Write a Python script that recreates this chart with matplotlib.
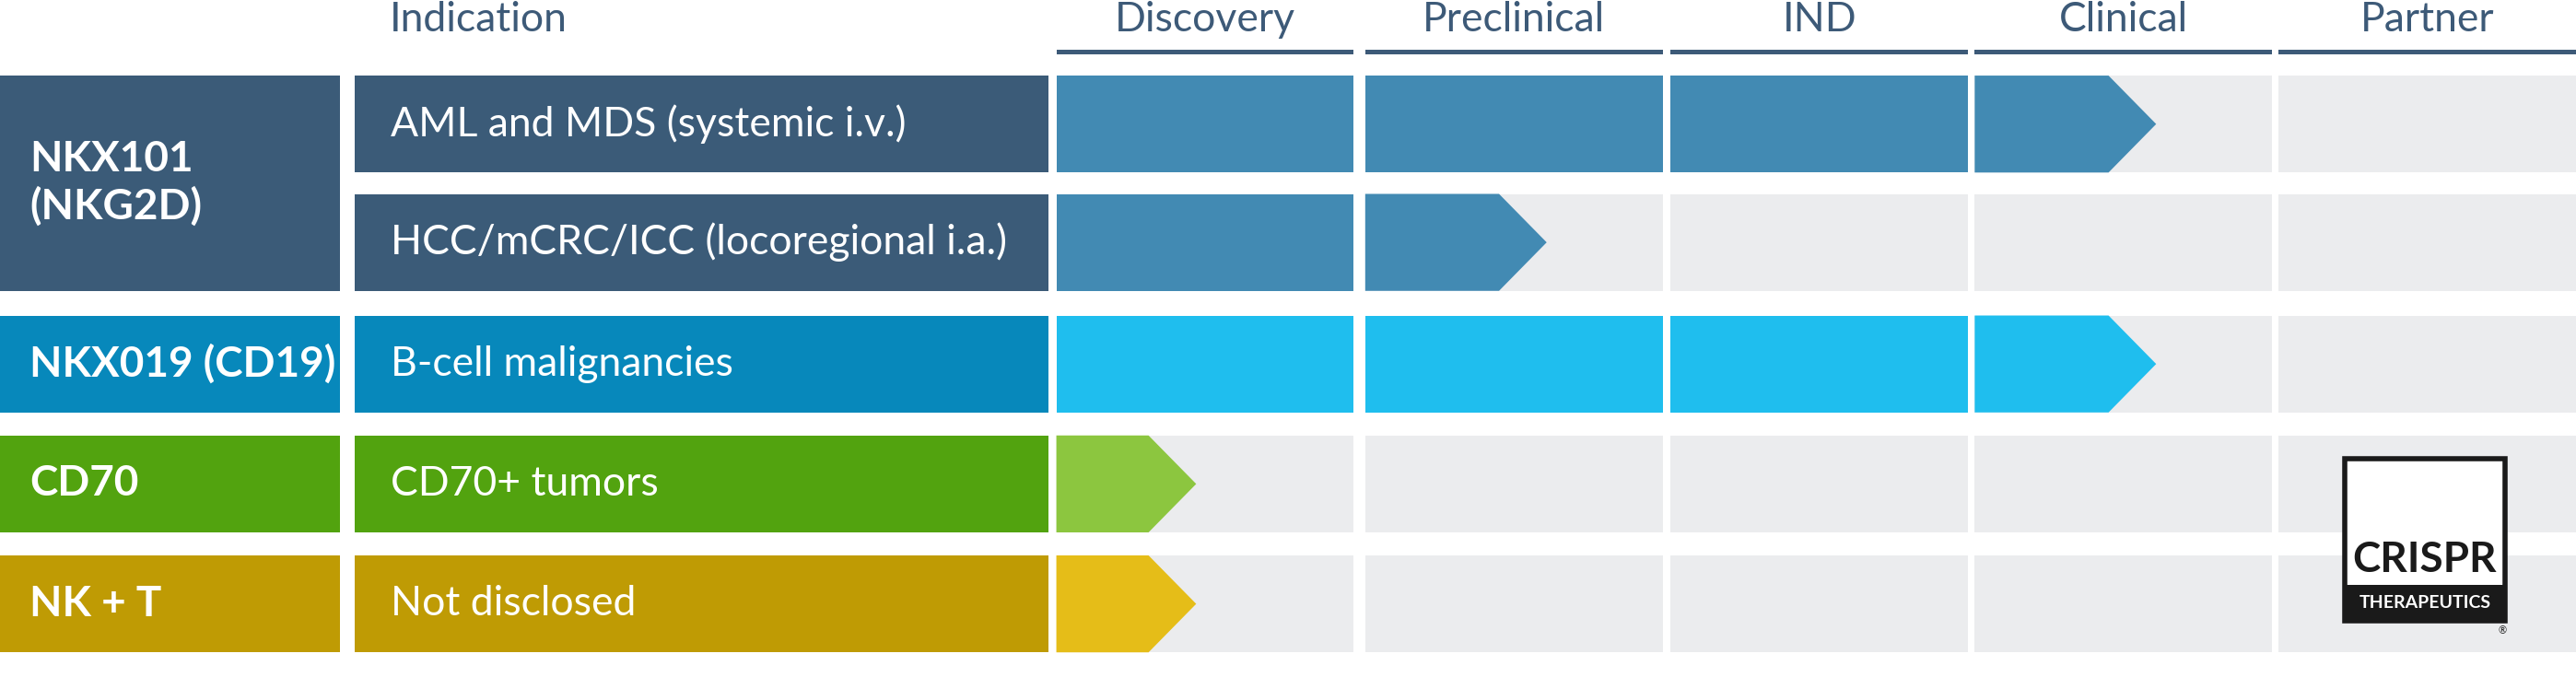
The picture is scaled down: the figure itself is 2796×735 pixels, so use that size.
import matplotlib.pyplot as plt
from matplotlib.patches import Rectangle, Polygon

plt.rcParams['font.family'] = ['Lato', 'DejaVu Sans']

stages = ["Discovery", "Preclinical", "IND", "Clinical", "Partner"]
programs = ["NKX101\n(NKG2D)", "NKX019 (CD19)", "CD70", "NK + T"]
program_rows = [(0, 1), (2, 2), (3, 3), (4, 4)]
indications = ["AML and MDS (systemic i.v.)", "HCC/mCRC/ICC (locoregional i.a.)",
               "B-cell malignancies", "CD70+ tumors", "Not disclosed"]
# progress in stage units (3.45 = partway through Clinical)
progress = [3.45, 1.45, 3.45, 0.31, 0.31]

program_colors = ["#3B5B78", "#0788BB", "#52A30F", "#BF9B04"]
ind_colors = ["#3B5B78", "#3B5B78", "#0788BB", "#52A30F", "#BF9B04"]
bar_colors = ["#428AB3", "#428AB3", "#1FBEEE", "#8CC63F", "#E5BD18"]
grey = "#EBECEE"
head = "#3D5A78"

W, H = 1568, 412
fig = plt.figure(figsize=(27.96, 7.35), dpi=100)
ax = fig.add_axes([0, 0, 1, 1])
ax.set_xlim(0, W)
ax.set_ylim(H, 0)
ax.axis('off')

row_top = [46, 118, 192, 265, 338]
row_h = 59
col_x = [643, 831, 1017, 1202, 1387]
col_w = 181
tip = 29

ax.text(237, 12, "Indication", fontsize=32, color=head, va='center', ha='left')
for x, s in zip(col_x, stages):
    ax.text(x + col_w / 2, 12, s, fontsize=32, color=head, va='center', ha='center')
    ax.add_patch(Rectangle((x, 30), col_w, 3, color=head, lw=0))

for (r0, r1), name, c in zip(program_rows, programs, program_colors):
    y0 = row_top[r0]
    y1 = row_top[r1] + row_h
    ax.add_patch(Rectangle((0, y0), 207, y1 - y0, color=c, lw=0))
    ax.text(18, (y0 + y1) / 2, name, fontsize=33, fontweight='bold', color='white',
            va='center', ha='left', linespacing=1.25)

for i, (txt, c) in enumerate(zip(indications, ind_colors)):
    y = row_top[i]
    ax.add_patch(Rectangle((216, y), 422, row_h, color=c, lw=0))
    ax.text(238, y + row_h / 2, txt, fontsize=32, color='white', va='center', ha='left')
    for j, x in enumerate(col_x):
        ax.add_patch(Rectangle((x, y), col_w, row_h, color=grey, lw=0))
        p = progress[i] - j
        if p >= 1:
            ax.add_patch(Rectangle((x, y), col_w, row_h, color=bar_colors[i], lw=0))
        elif p > 0:
            xe = x + p * col_w
            ax.add_patch(Polygon([(x, y), (xe, y), (xe + tip, y + row_h / 2),
                                  (xe, y + row_h), (x, y + row_h)],
                                 closed=True, color=bar_colors[i], lw=0))

# CRISPR Therapeutics logo
lx, ly, lw_, lh = 1427, 279, 98, 99
ax.add_patch(Rectangle((lx, ly), lw_, lh, facecolor='white', edgecolor='#1a1a1a', lw=4))
ax.add_patch(Rectangle((lx, ly + 77), lw_, 22, color='#1a1a1a', lw=0))
ax.text(lx + lw_ / 2, ly + 62, "CRISPR", fontsize=33, fontweight='bold', color='#1a1a1a',
        ha='center', va='center')
ax.text(lx + lw_ / 2, ly + 88, "THERAPEUTICS", fontsize=14, fontweight='bold', color='white',
        ha='center', va='center')
ax.text(lx + lw_ - 2, ly + lh + 6, "®", fontsize=8, color='#1a1a1a', ha='center', va='center')

fig.savefig("out.png", dpi=100, facecolor='white')
